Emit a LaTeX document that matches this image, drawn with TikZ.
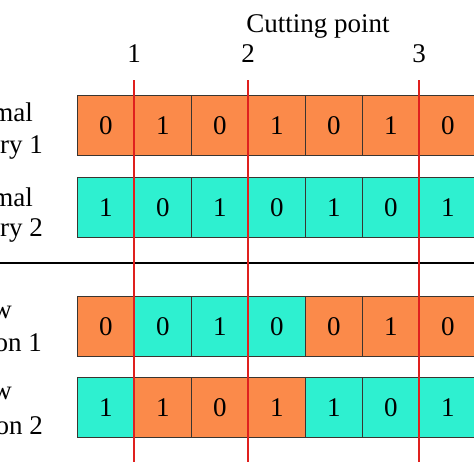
\documentclass[tikz,border=0pt]{standalone}
\usepackage{fontspec}
\setmainfont{Liberation Serif}
\definecolor{orng}{HTML}{FB8A4A}
\definecolor{teal2}{HTML}{2EF0D0}
\definecolor{cutred}{HTML}{E0201E}
\definecolor{edge}{HTML}{3A3530}
\begin{document}
\begin{tikzpicture}[x=1pt,y=-1pt,
  txt/.style={font=\fontsize{27}{30}\selectfont, inner sep=0pt},
  cell/.style={draw=edge, line width=0.9pt, minimum width=57pt, minimum height=60pt, inner sep=0pt, anchor=north west, font=\fontsize{27}{30}\selectfont},
  oc/.style={cell, fill=orng},
  tc/.style={cell, fill=teal2},
  cutline/.style={draw=cutred, line width=2pt},
  sepline/.style={draw=black, line width=2pt}]
\useasboundingbox (0,0) rectangle (474,474);
\clip (0,0) rectangle (474,474);
\fill[white] (0,0) rectangle (474,474);
% header
\node[txt, anchor=base] (title) at (318,32) {Cutting point};
\node[txt, anchor=base] (n1) at (134,62) {1};
\node[txt, anchor=base] (n2) at (248,62) {2};
\node[txt, anchor=base] (n3) at (419,62) {3};
% left labels
\node[txt, anchor=base east] (l1a) at (33,121) {mal};
\node[txt, anchor=base east] (l1b) at (43,153) {ry 1};
\node[txt, anchor=base east] (l2a) at (33,206) {mal};
\node[txt, anchor=base east] (l2b) at (43,236) {ry 2};
\node[txt, anchor=base east] (l3a) at (12,318) {w};
\node[txt, anchor=base east] (l3b) at (42,351) {on 1};
\node[txt, anchor=base east] (l4a) at (12,399) {w};
\node[txt, anchor=base east] (l4b) at (43,434) {on 2};
% row 1
\node[oc] (a1) at (77,95) {0};
\node[oc] (a2) at (134,95) {1};
\node[oc] (a3) at (191,95) {0};
\node[oc] (a4) at (248,95) {1};
\node[oc] (a5) at (305,95) {0};
\node[oc] (a6) at (362,95) {1};
\node[oc] (a7) at (419,95) {0};
% row 2
\node[tc] (b1) at (77,177) {1};
\node[tc] (b2) at (134,177) {0};
\node[tc] (b3) at (191,177) {1};
\node[tc] (b4) at (248,177) {0};
\node[tc] (b5) at (305,177) {1};
\node[tc] (b6) at (362,177) {0};
\node[tc] (b7) at (419,177) {1};
% row 3
\node[oc] (c1) at (77,296) {0};
\node[tc] (c2) at (134,296) {0};
\node[tc] (c3) at (191,296) {1};
\node[tc] (c4) at (248,296) {0};
\node[oc] (c5) at (305,296) {0};
\node[oc] (c6) at (362,296) {1};
\node[oc] (c7) at (419,296) {0};
% row 4
\node[tc] (d1) at (77,377) {1};
\node[oc] (d2) at (134,377) {1};
\node[oc] (d3) at (191,377) {0};
\node[oc] (d4) at (248,377) {1};
\node[tc] (d5) at (305,377) {1};
\node[tc] (d6) at (362,377) {0};
\node[tc] (d7) at (419,377) {1};
% separator
\coordinate (sL) at (0,263);
\coordinate (sR) at (474,263);
\draw[sepline] (sL) -- (sR);
% cut lines
\coordinate (t1) at (134,80); \coordinate (e1) at (134,462);
\coordinate (t2) at (248,80); \coordinate (e2) at (248,462);
\coordinate (t3) at (419,80); \coordinate (e3) at (419,462);
\draw[cutline] (t1) -- (e1);
\draw[cutline] (t2) -- (e2);
\draw[cutline] (t3) -- (e3);
\end{tikzpicture}
\end{document}
